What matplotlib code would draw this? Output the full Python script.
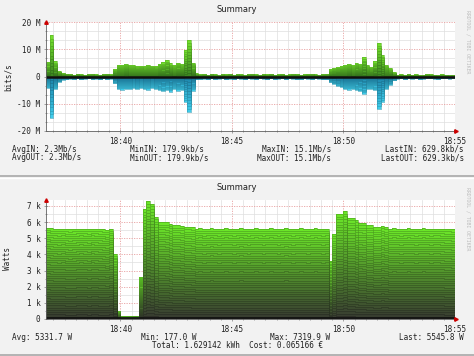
import numpy as np
import matplotlib
matplotlib.use("Agg")
import matplotlib.pyplot as plt
from matplotlib.ticker import MultipleLocator, FuncFormatter
from matplotlib.lines import Line2D

# one sample every 10 s, first sample at 18:36:40 (minutes after 18:00)
start_min = 36 + 40 / 60
step_min = 10 / 60

# traffic in Mb/s
bits_in = [5.5, 15.1, 5.6, 2.0, 1.3, 1.1,
           0.9, 0.7, 1.0, 0.8, 0.6, 0.9, 1.0, 0.8, 0.7, 0.9, 1.0, 0.8,
           2.8,
           4.2, 4.4, 4.5, 4.3, 4.1, 3.9, 4.0, 3.8, 4.1, 4.0, 3.9,
           4.6, 5.2, 5.9, 4.8, 4.4, 5.0, 4.5,
           9.8, 13.5, 5.0, 1.2,
           0.8, 0.9, 0.7, 1.0, 0.8, 0.6, 0.9, 0.8, 1.0, 0.7, 0.9, 0.8,
           0.6, 0.9, 1.0, 0.8, 0.7, 0.9, 0.8, 1.0, 0.7, 0.8, 0.9, 0.6,
           0.8, 1.0, 0.9, 0.7, 0.8, 0.9, 1.0, 0.8, 0.7, 0.9, 1.1,
           2.6, 3.2, 3.6, 3.9, 4.3, 4.6, 4.4, 5.1, 4.7, 7.0, 4.4, 3.6,
           5.6, 12.4, 8.0, 4.2, 3.0, 1.5,
           0.7, 0.8, 0.6, 0.9, 0.7, 0.8, 0.6, 0.7, 0.9, 0.8, 0.7, 0.6,
           0.8, 0.7, 0.6, 0.63]
bits_out = [4.3, 15.1, 4.6, 2.0, 1.2, 1.0,
            0.8, 0.9, 0.7, 1.0, 0.8, 0.7, 0.9, 0.8, 1.0, 0.7, 0.9, 0.8,
            2.5,
            4.6, 4.8, 4.5, 4.7, 4.4, 4.6, 4.3, 4.5, 4.8, 4.4, 4.6,
            5.0, 5.5, 4.9, 5.6, 4.7, 5.2, 5.0,
            9.4, 13.0, 5.2, 1.0,
            0.9, 0.8, 1.0, 0.7, 0.9, 0.8, 0.6, 1.0, 0.8, 0.9, 0.7, 0.8,
            1.0, 0.7, 0.8, 0.9, 0.6, 0.8, 1.0, 0.7, 0.9, 0.8, 0.6, 0.9,
            0.7, 0.8, 1.0, 0.9, 0.7, 0.8, 0.9, 0.7, 0.8, 1.0, 1.0,
            2.2, 2.8, 3.4, 4.0, 4.5, 4.8, 4.6, 5.0, 5.3, 6.4, 4.7, 4.5,
            4.9, 11.8, 9.3, 4.6, 3.0, 1.4,
            0.8, 0.7, 0.9, 0.6, 0.8, 0.7, 0.9, 0.8, 0.6, 0.7, 0.8, 0.9,
            0.7, 0.6, 0.8, 0.63]

# power in W
watts = [5650, 5620, 5600, 5580, 5600, 5570, 5550, 5560, 5580, 5600,
         5580, 5570, 5600, 5580, 5560, 5550, 5520, 5600,
         4000, 500, 180, 177, 185, 190, 200,
         2600, 6800, 7320, 7150, 6330,
         6000, 6000, 5980, 5900, 5800, 5800, 5780, 5700, 5700, 5680,
         5600, 5610, 5590, 5600, 5620, 5600, 5580, 5600, 5610, 5600,
         5590, 5600, 5620, 5600, 5590, 5600, 5610, 5600, 5580, 5600,
         5610, 5600, 5590, 5600, 5620, 5600, 5590, 5600, 5610, 5600,
         5580, 5600, 5610, 5600, 5590, 5600,
         3600, 5250, 6500, 6500, 6700, 6270, 6270, 6150, 5960, 5950,
         5800, 5800, 5680, 5680, 5750, 5700,
         5600, 5610, 5600, 5590, 5600, 5610, 5600, 5580, 5600, 5610,
         5600, 5590, 5600, 5600, 5580, 5570, 5560, 5546]

x_ticks = [40, 45, 50, 55]
x_labels = ["18:40", "18:45", "18:50", "18:55"]

net_lines = [("AvgIN: 2.3Mb/s", "MinIN: 179.9kb/s", "MaxIN: 15.1Mb/s", "LastIN: 629.8kb/s"),
             ("AvgOUT: 2.3Mb/s", "MinOUT: 179.9kb/s", "MaxOUT: 15.1Mb/s", "LastOUT: 629.3kb/s")]
pow_line = ("Avg: 5331.7 W", "Min: 177.0 W", "Max: 7319.9 W", "Last: 5545.8 W")
pow_total = "Total: 1.629142 kWh  Cost: 0.065166 €"

W, H = 474, 356
mono = "DejaVu Sans Mono"
fs = 5.5
bg = "#f2f2f2"


def px(x, y):
    return x / W, 1 - y / H


def ftext(x, y, s, **kw):
    kw.setdefault("family", mono)
    kw.setdefault("fontsize", fs)
    kw.setdefault("color", "#202020")
    kw.setdefault("va", "center")
    fig.text(*px(x, y), s, **kw)


def layered(ax, vals, lo, hi, n, sign=1, edge=0.8):
    # rrdtool style gradient: stack of scaled copies of the same area
    t = start_min + np.arange(len(vals) + 1) * step_min
    v = np.append(vals, vals[-1]) * sign
    lo, hi = np.array(lo), np.array(hi)
    for i in range(n, 0, -1):
        f = i / n
        c = lo + (hi - lo) * f
        ax.fill_between(t, 0, v * f, step="post", color=c, lw=0, zorder=2)
        ax.step(t, v * f, where="post", color=c * edge, lw=0.45, zorder=2)


def style_axes(ax, minor_y):
    ax.set_facecolor("white")
    ax.set_xlim(start_min, 55.0)
    ax.xaxis.set_major_locator(plt.FixedLocator(x_ticks))
    ax.set_xticklabels(x_labels)
    ax.xaxis.set_minor_locator(MultipleLocator(0.5))
    ax.yaxis.set_minor_locator(MultipleLocator(minor_y))
    ax.grid(which="minor", color="#dedede", lw=0.5, ls="-", zorder=0)
    ax.grid(which="major", color="#e8a0a0", lw=0.6, ls=(0, (1.5, 1.5)), zorder=0)
    ax.set_axisbelow(True)
    for s in ("top", "right"):
        ax.spines[s].set_visible(False)
    for s in ("left", "bottom"):
        ax.spines[s].set_color("#606060")
        ax.spines[s].set_linewidth(0.6)
        ax.spines[s].set_zorder(5)
    ax.tick_params(which="both", direction="inout", color="#808080", width=0.5,
                   labelsize=fs, labelcolor="#202020", pad=2.5)
    ax.tick_params(which="major", length=3)
    ax.tick_params(which="minor", length=1.5)
    for lab in ax.get_xticklabels() + ax.get_yticklabels():
        lab.set_family(mono)
    x0, x1 = ax.get_xlim()
    y0, y1 = ax.get_ylim()
    ax.plot([x0], [y1], marker="^", ms=2.5, color="#cc0000", clip_on=False, zorder=6)
    ax.plot([x1 + 0.05], [y0], marker=">", ms=2.5, color="#cc0000", clip_on=False, zorder=6)


fig = plt.figure(figsize=(W / 100, H / 100), dpi=100, facecolor=bg)

# panel frames
for y in (176, 355):
    fig.add_artist(Line2D([0, 1], [1 - y / H] * 2, color="#a8a8a8", lw=1.2))
fig.add_artist(Line2D([0, 1], [1 - 178 / H] * 2, color="white", lw=1.0))

# ---- network panel ----
ax1 = fig.add_axes([46 / W, 1 - 131 / H, 409 / W, 109 / H])
layered(ax1, bits_in, (0.22, 0.50, 0.12), (0.45, 0.88, 0.18), 12)
layered(ax1, bits_out, (0.10, 0.50, 0.65), (0.25, 0.80, 0.92), 12, sign=-1)
ax1.axhline(0, color="#101010", lw=1.8, zorder=4)
ax1.set_ylim(-20, 20)
ax1.yaxis.set_major_locator(MultipleLocator(10))
ax1.yaxis.set_major_formatter(FuncFormatter(lambda v, p: "0" if v == 0 else f"{v:.0f} M"))
style_axes(ax1, 10 / 3)

ftext(237, 9, "Summary", family="DejaVu Sans", fontsize=6, ha="center")
ftext(8, 77, "bits/s", rotation=90, ha="center")
ftext(468, 42, "RRDTOOL / TOBI OETIKER", rotation=270, ha="center",
      fontsize=3.5, color="#bdbdbd")
for row, y in zip(net_lines, (149, 158)):
    ftext(12, y, row[0], ha="left")
    ftext(130, y, row[1], ha="left")
    ftext(331, y, row[2], ha="right")
    ftext(464, y, row[3], ha="right")

# ---- power panel ----
ax2 = fig.add_axes([46 / W, 1 - 319 / H, 409 / W, 119 / H])
layered(ax2, watts, (0.21, 0.21, 0.19), (0.42, 0.90, 0.16), 40, edge=0.72)
ax2.plot([start_min, 55.0], [60, 60], color="#111111", lw=1.2, zorder=3)
ax2.set_ylim(0, 7370)
ax2.yaxis.set_major_locator(MultipleLocator(1000))
ax2.yaxis.set_major_formatter(FuncFormatter(lambda v, p: "0" if v == 0 else f"{v / 1000:.0f} k"))
style_axes(ax2, 500)

ftext(237, 187, "Summary", family="DejaVu Sans", fontsize=6, ha="center")
ftext(8, 258, "Watts", rotation=90, ha="center")
ftext(468, 219, "RRDTOOL / TOBI OETIKER", rotation=270, ha="center",
      fontsize=3.5, color="#bdbdbd")
ftext(12, 337, pow_line[0], ha="left")
ftext(141, 337, pow_line[1], ha="left")
ftext(330, 337, pow_line[2], ha="right")
ftext(464, 337, pow_line[3], ha="right")
ftext(238, 346, pow_total, ha="center")

fig.savefig("out.png", dpi=100, facecolor=bg)
